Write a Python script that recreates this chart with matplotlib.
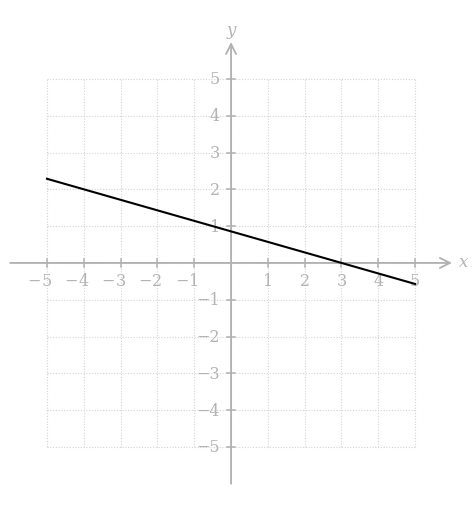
import numpy as np
import matplotlib.pyplot as plt

# line 2x + 7y = 6, read from its end points
x_ends = [-5, 5]
y_ends = [16 / 7, -4 / 7]

ticks = [-5, -4, -3, -2, -1, 1, 2, 3, 4, 5]
grid_vals = list(range(-5, 6))

axis_col = '#b0b0b0'
text_col = '#b4b4b4'
font = 'DejaVu Serif'

fig = plt.figure(figsize=(4.74, 5.06), dpi=100)
ax = fig.add_axes([0, 0, 1, 1])
ax.set_xlim(-6.277, 6.60)
ax.set_ylim(-6.576, 7.17)
ax.axis('off')

# dotted grid
for g in grid_vals:
    ax.plot([g, g], [-5, 5], color='#d4d4d4', lw=0.8, ls=(0, (1, 1.5)), zorder=1)
    ax.plot([-5, 5], [g, g], color='#d4d4d4', lw=0.8, ls=(0, (1, 1.5)), zorder=1)

# axes with arrows
arrow = dict(arrowstyle='->', color=axis_col, lw=1.3, mutation_scale=18,
             shrinkA=0, shrinkB=0)
ax.annotate('', xy=(6.0, 0), xytext=(-6.0, 0), arrowprops=arrow, zorder=2)
ax.annotate('', xy=(0, 6.0), xytext=(0, -6.0), arrowprops=arrow, zorder=2)
ax.text(6.2, 0.05, 'x', color=text_col, fontsize=12, family=font,
        style='italic', ha='left', va='center')
ax.text(0.02, 6.33, 'y', color=text_col, fontsize=12, family=font,
        style='italic', ha='center', va='center')

# ticks and labels (digit centred on the tick, minus hanging to the left)
tl = 0.11
dw = 0.1
for t in ticks:
    ax.plot([t, t], [-tl, tl], color=axis_col, lw=1.1, zorder=2)
    ax.plot([-tl, tl], [t, t], color=axis_col, lw=1.1, zorder=2)
    ax.text(t, -0.48, str(abs(t)), color=text_col, fontsize=11.5, family=font,
            ha='center', va='center')
    if t < 0:
        ax.text(t - dw - 0.06, -0.48, '\u2212', color=text_col, fontsize=11.5,
                family=font, ha='right', va='center')
    ax.text(-0.3, t, ('\u2212' if t < 0 else '') + str(abs(t)), color=text_col,
            fontsize=11.5, family=font, ha='right', va='center')

ax.plot(x_ends, y_ends, color='black', lw=1.5, zorder=3)

fig.savefig('out.png', dpi=100)
